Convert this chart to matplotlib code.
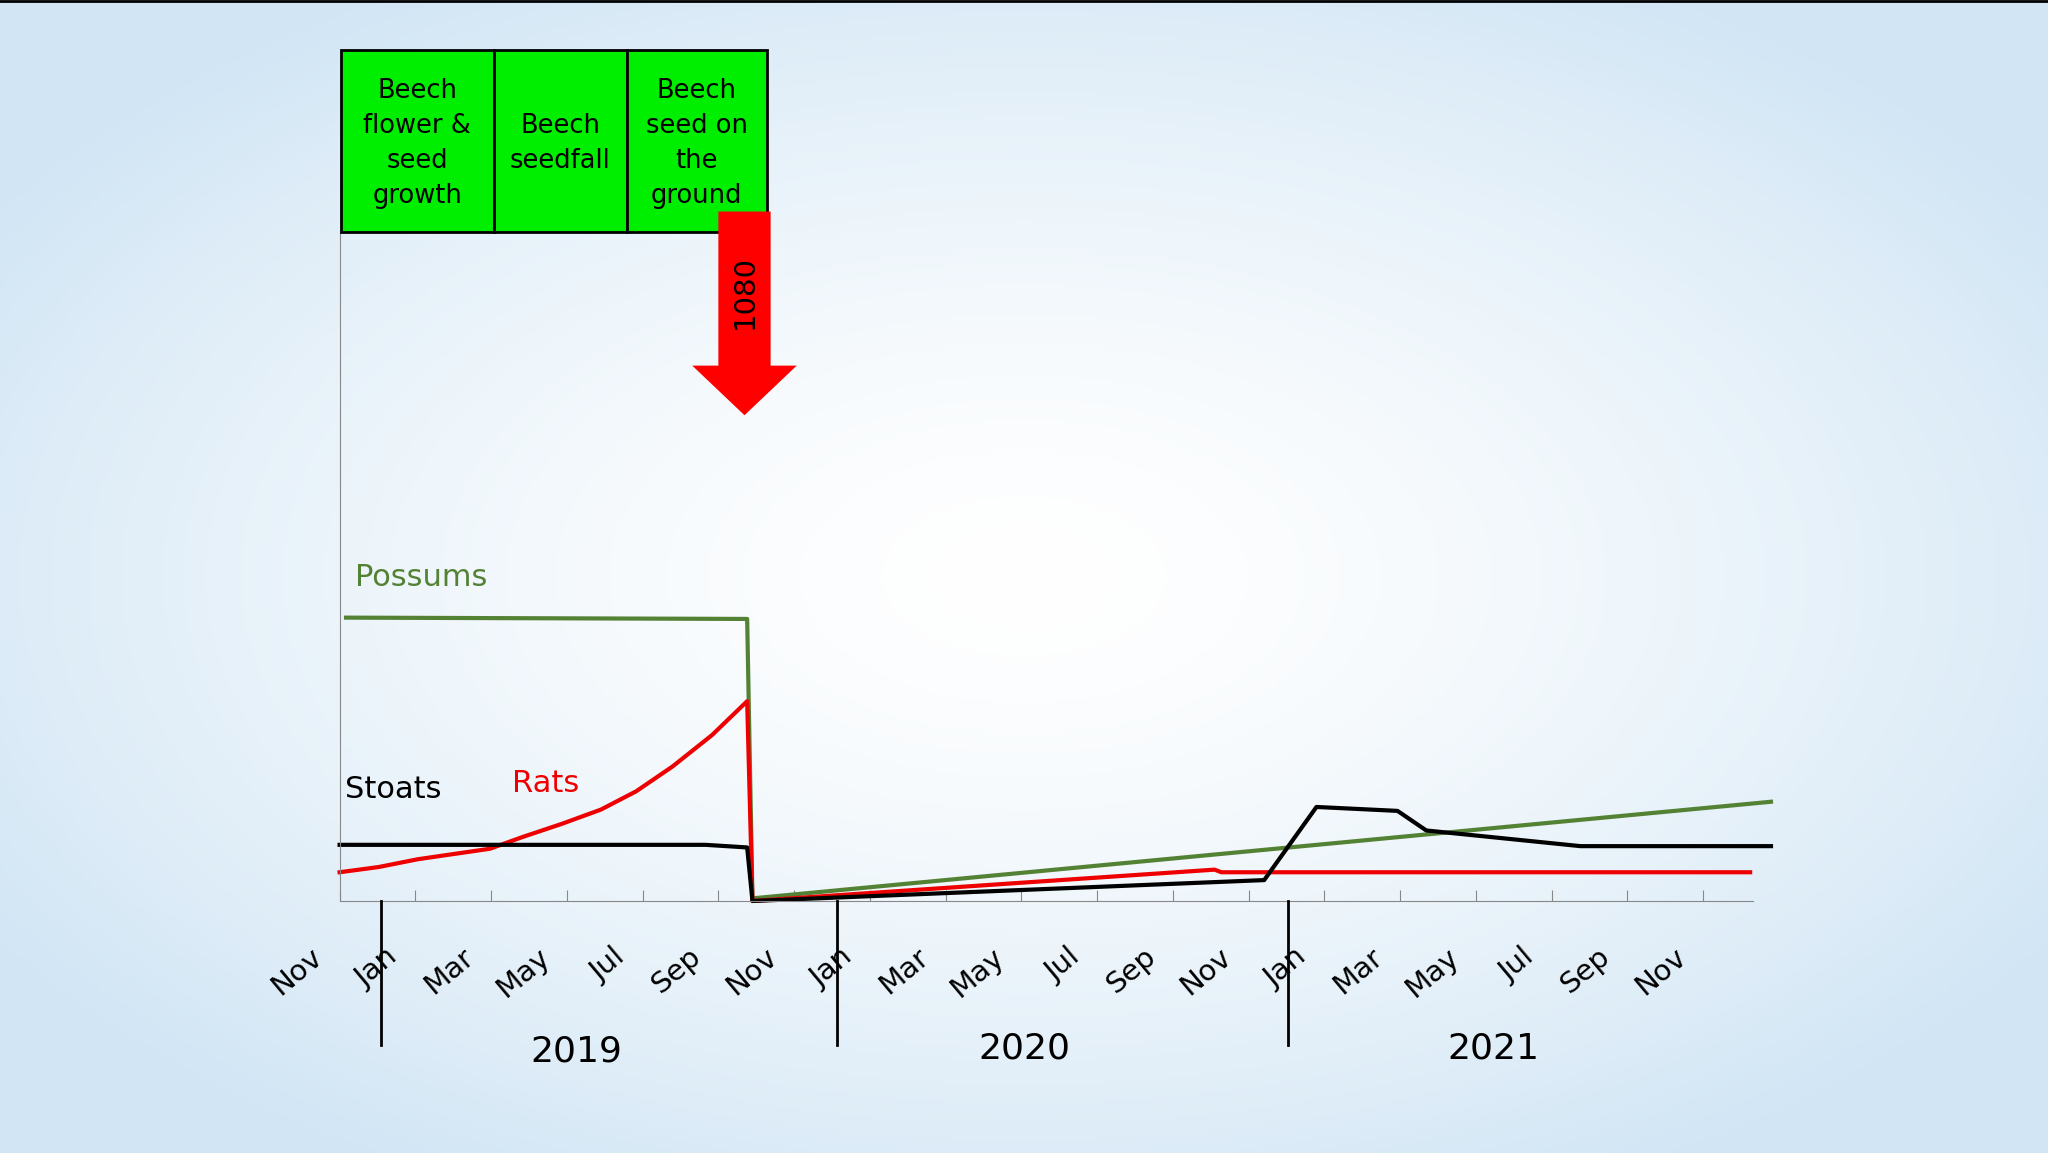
import numpy as np
import matplotlib
matplotlib.use("Agg")
import matplotlib.pyplot as plt
import matplotlib.transforms as mtransforms
from matplotlib.patches import Rectangle, Polygon
from matplotlib.lines import Line2D

# months since Nov 2018
poss_x = [0.17, 10.76, 10.9, 37.79]
poss_y = [217, 216, 2, 76]
rats_x = [0.0, 1.03, 2.07, 3.97, 4.83, 5.86, 6.9, 7.83, 8.79, 9.83, 10.76, 10.9, 23.1, 23.28, 37.24]
rats_y = [22, 26, 32, 40, 49, 59, 70, 84, 103, 127, 153, 0, 24, 22, 22]
stoat_x = [0.0, 9.66, 10.76, 10.9, 24.41, 25.79, 27.93, 28.69, 32.76, 37.79]
stoat_y = [43, 43, 41, 0, 16, 72, 69, 54, 42, 42]
tick_labels = ["Nov","Jan","Mar","May","Jul","Sep","Nov","Jan","Mar","May","Jul","Sep",
               "Nov","Jan","Mar","May","Jul","Sep","Nov"]
years = ["2019", "2020", "2021"]
box_texts = ["Beech\nflower &\nseed\ngrowth", "Beech\nseedfall", "Beech\nseed on\nthe\nground"]

W, H = 1568.0, 883.0
def fx(p): return p / W
def fy(p): return 1 - p / H
def mx(p): return (p - 260) / 29.0

fig = plt.figure(figsize=(20.48, 11.53), dpi=100)
bg = fig.add_axes([0, 0, 1, 1])
yy, xx = np.mgrid[0:1:300j, 0:1:500j]
r = np.sqrt(((xx - 0.5) / 0.6) ** 2 + ((yy - 0.5) / 0.6) ** 2)
r = np.clip(r, 0, 1)
c0 = np.array([1.0, 1.0, 1.0]); c1 = np.array([0.82, 0.90, 0.96])
img = c0[None, None, :] * (1 - r[..., None] ** 1.5) + c1[None, None, :] * (r[..., None] ** 1.5)
bg.imshow(img, extent=[0, 1, 0, 1], aspect="auto")
bg.axhline(0.999, color="black", lw=2)
bg.set_axis_off()

ax = fig.add_axes([fx(260), fy(690), fx(1342) - fx(260), fy(178) - fy(690)])
ax.patch.set_alpha(0)
ax.set_xlim(0, mx(1342)); ax.set_ylim(0, 512)
ax.plot(poss_x, poss_y, color="#548235", lw=3, clip_on=False)
ax.plot(rats_x, rats_y, color="#ee0000", lw=3, clip_on=False)
ax.plot(stoat_x, stoat_y, color="black", lw=3, clip_on=False)
for s in ["top", "right"]:
    ax.spines[s].set_visible(False)
ax.spines["left"].set_color("#888888"); ax.spines["bottom"].set_color("#888888")
ax.set_yticks([])
ax.set_xticks(np.arange(0, 38, 2))
ax.set_xticklabels(tick_labels, rotation=40, ha="right", rotation_mode="anchor", fontsize=21)
ax.tick_params(axis="x", direction="in", length=8, color="#888888", pad=30)
off = mtransforms.ScaledTranslation(-0.3, 0, fig.dpi_scale_trans)
for lab in ax.get_xticklabels():
    lab.set_transform(lab.get_transform() + off)

for px, py, t in [(272, 442, "Possums"), (264, 605, "Stoats"), (392, 600, "Rats")]:
    col = {"Possums": "#548235", "Stoats": "black", "Rats": "#ee0000"}[t]
    fig.text(fx(px), fy(py), t, color=col, fontsize=22, va="center", ha="left")

for x in [292, 641, 986]:
    fig.add_artist(Line2D([fx(x), fx(x)], [fy(690), fy(800)], color="black", lw=2))
for x, y, t in zip([441, 784, 1143], [805, 803, 803], years):
    fig.text(fx(x), fy(y), t, fontsize=26, ha="center", va="center")

edges = [261, 378, 480, 587]
for i, t in enumerate(box_texts):
    fig.add_artist(Rectangle((fx(edges[i]), fy(178)), fx(edges[i+1]) - fx(edges[i]),
                             fy(38) - fy(178), transform=fig.transFigure,
                             facecolor="#00ee00", edgecolor="black", lw=2))
    fig.text(fx((edges[i] + edges[i+1]) / 2), fy(110), t, fontsize=18.5, ha="center",
             va="center", linespacing=1.45)

arrow = [(550, 162), (590, 162), (590, 280), (610, 280), (570, 318), (530, 280), (550, 280)]
fig.add_artist(Polygon([(fx(a), fy(b)) for a, b in arrow], closed=True,
                       transform=fig.transFigure, facecolor="#ff0000", edgecolor="none"))
fig.text(fx(570), fy(224), "1080", rotation=90, fontsize=21, ha="center", va="center")

fig.savefig("out.png", dpi=100)
